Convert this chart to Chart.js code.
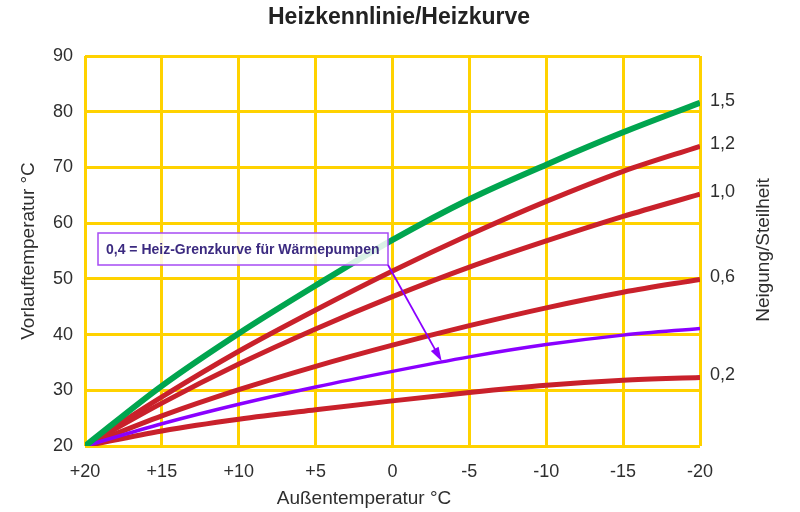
<!DOCTYPE html>
<html>
<head>
<meta charset="utf-8">
<script src="https://cdn.jsdelivr.net/npm/chart.js@4.4.1/dist/chart.umd.min.js"></script>
<style>
  html, body { margin: 0; padding: 0; background: #fff; }
</style>
</head>
<body>
<canvas id="heizChart" width="800" height="512"></canvas>
<script>
// Außentemperatur (°C), von +20 bis -20
const outdoorTemps = [20, 15, 10, 5, 0, -5, -10, -15, -20];

// Vorlauftemperatur je Neigung
const curve15 = [20, 30.8, 40.2, 48.8, 57.0, 64.3, 70.5, 76.3, 81.6];
const curve12 = [20, 28.8, 37.0, 44.4, 51.4, 57.9, 63.9, 69.3, 73.8];
const curve10 = [20, 27.7, 34.7, 41.0, 46.8, 52.1, 56.8, 61.2, 65.2];
const curve06 = [20, 25.4, 30.1, 34.3, 38.1, 41.6, 44.8, 47.6, 49.9];
const curve04 = [20, 24.0, 27.5, 30.6, 33.4, 36.0, 38.2, 39.9, 41.1];
const curve02 = [20, 22.7, 24.8, 26.5, 28.1, 29.6, 30.9, 31.8, 32.3];

const slopeLabels = ['1,5', '1,2', '1,0', '0,6', '0,4', '0,2'];
const xTicks = [20, 15, 10, 5, 0, -5, -10, -15, -20];
const yTicks = [20, 30, 40, 50, 60, 70, 80, 90];

const FONT = "'Liberation Sans', Arial, Helvetica, sans-serif";
const YELLOW = '#FFD200';
const RED = '#C9212B';
const GREEN = '#00A54F';
const PURPLE = '#8A00FF';
const TEXT = '#2E2E2E';

const toPoints = (arr) => arr.map((v, i) => ({ x: outdoorTemps[i], y: v }));

const lineStyle = (label, data, color, width) => ({
  label,
  data: toPoints(data),
  borderColor: color,
  borderWidth: width,
  pointRadius: 0,
  fill: false,
  cubicInterpolationMode: 'monotone',
  borderCapStyle: 'butt'
});

// green first = drawn on top
const datasets = [
  lineStyle(slopeLabels[0], curve15, GREEN, 6),
  lineStyle(slopeLabels[4], curve04, PURPLE, 3.5),
  lineStyle(slopeLabels[1], curve12, RED, 5),
  lineStyle(slopeLabels[2], curve10, RED, 5),
  lineStyle(slopeLabels[3], curve06, RED, 5),
  lineStyle(slopeLabels[5], curve02, RED, 5)
];

const decorations = {
  id: 'decorations',
  afterDraw(chart) {
    const { ctx, scales: { x, y } } = chart;
    ctx.save();

    // title
    ctx.fillStyle = '#222';
    ctx.font = `bold 23px ${FONT}`;
    ctx.textAlign = 'center';
    ctx.textBaseline = 'alphabetic';
    ctx.fillText('Heizkennlinie/Heizkurve', 399, 24);

    // axis titles
    ctx.fillStyle = TEXT;
    ctx.font = `19px ${FONT}`;
    ctx.textBaseline = 'middle';
    ctx.fillText('Außentemperatur °C', 364, 499);

    ctx.save();
    ctx.translate(29, 251);
    ctx.rotate(-Math.PI / 2);
    ctx.fillText('Vorlauftemperatur °C', 0, 0);
    ctx.restore();

    ctx.save();
    ctx.translate(764, 250);
    ctx.rotate(-Math.PI / 2);
    ctx.fillText('Neigung/Steilheit', 0, 0);
    ctx.restore();

    // slope labels at right end of the curves
    ctx.font = `18px ${FONT}`;
    ctx.textAlign = 'left';
    const ends = [curve15, curve12, curve10, curve06, null, curve02];
    ends.forEach((arr, i) => {
      if (!arr) return;
      const py = y.getPixelForValue(arr[arr.length - 1]) - 2;
      ctx.fillText(slopeLabels[i], x.right + 10, py);
    });

    // annotation box for 0,4
    const bx = 98, by = 233, bw = 290, bh = 32;
    ctx.fillStyle = 'rgba(255,255,255,0.85)';
    ctx.fillRect(bx, by, bw, bh);
    ctx.strokeStyle = '#A64BF4';
    ctx.lineWidth = 1.5;
    ctx.strokeRect(bx, by, bw, bh);
    ctx.fillStyle = '#3B2A80';
    ctx.font = `bold 14px ${FONT}`;
    ctx.textAlign = 'left';
    ctx.fillText(slopeLabels[4] + ' = Heiz-Grenzkurve für Wärmepumpen', bx + 8, by + bh / 2 + 1);

    // arrow to the 0,4 curve
    const sx = bx + bw, sy = by + bh;
    const tx = x.getPixelForValue(-3.2), ty = y.getPixelForValue(35.2);
    const ang = Math.atan2(ty - sy, tx - sx);
    const head = 15;
    ctx.strokeStyle = PURPLE;
    ctx.fillStyle = PURPLE;
    ctx.lineWidth = 1.8;
    ctx.beginPath();
    ctx.moveTo(sx, sy);
    ctx.lineTo(tx - Math.cos(ang) * head * 0.8, ty - Math.sin(ang) * head * 0.8);
    ctx.stroke();
    ctx.beginPath();
    ctx.moveTo(tx, ty);
    ctx.lineTo(tx - Math.cos(ang - 0.3) * head, ty - Math.sin(ang - 0.3) * head);
    ctx.lineTo(tx - Math.cos(ang + 0.3) * head, ty - Math.sin(ang + 0.3) * head);
    ctx.closePath();
    ctx.fill();

    ctx.restore();
  }
};

new Chart(document.getElementById('heizChart'), {
  type: 'line',
  data: { datasets },
  options: {
    responsive: false,
    animation: false,
    layout: { padding: { top: 56, right: 100, left: 0, bottom: 0 } },
    plugins: {
      legend: { display: false },
      tooltip: { enabled: false },
      title: { display: false }
    },
    scales: {
      x: {
        type: 'linear',
        reverse: true,
        min: -20,
        max: 20,
        afterBuildTicks(scale) {
          scale.ticks = xTicks.map(v => ({ value: v }));
        },
        afterFit(scale) {
          scale.height = 66;
        },
        ticks: {
          color: TEXT,
          font: { family: FONT, size: 18 },
          padding: 15,
          maxRotation: 0,
          callback(value) {
            return value > 0 ? `+${value}` : String(value);
          }
        },
        grid: { color: YELLOW, lineWidth: 3, drawTicks: false },
        border: { display: false }
      },
      y: {
        min: 20,
        max: 90,
        afterBuildTicks(scale) {
          scale.ticks = yTicks.map(v => ({ value: v }));
        },
        afterFit(scale) {
          scale.width = 85;
        },
        ticks: {
          color: TEXT,
          font: { family: FONT, size: 18 },
          padding: 12
        },
        grid: { color: YELLOW, lineWidth: 3, drawTicks: false },
        border: { display: false }
      }
    }
  },
  plugins: [decorations]
});
</script>
</body>
</html>
